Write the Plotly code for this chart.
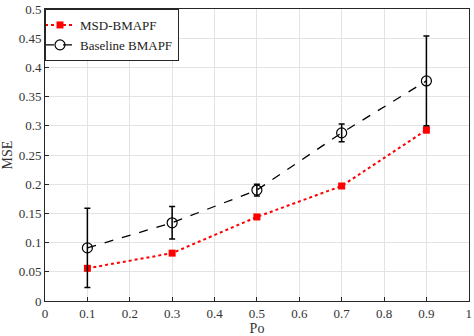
import plotly.graph_objects as go

po = [0.1, 0.3, 0.5, 0.7, 0.9]
msd_mse = [0.056, 0.082, 0.144, 0.197, 0.293]
msd_err = [0.003, 0.002, 0.003, 0.002, 0.005]
base_mse = [0.091, 0.134, 0.190, 0.288, 0.377]
base_err = [0.068, 0.028, 0.010, 0.015, 0.077]
x_ticks = [0, 0.1, 0.2, 0.3, 0.4, 0.5, 0.6, 0.7, 0.8, 0.9, 1]
y_ticks = [0, 0.05, 0.1, 0.15, 0.2, 0.25, 0.3, 0.35, 0.4, 0.45, 0.5]

font = "Liberation Serif"

fig = go.Figure()
fig.add_trace(go.Scatter(
    x=po, y=msd_mse, name="MSD-BMAPF", mode="lines+markers",
    line=dict(color="red", width=2, dash="dot"),
    marker=dict(symbol="square", size=7, color="red"),
    error_y=dict(type="data", array=msd_err, color="red", thickness=1.2, width=3),
))
fig.add_trace(go.Scatter(
    x=po, y=base_mse, name="Baseline BMAPF", mode="lines+markers",
    line=dict(color="black", width=1.3, dash="dash"),
    marker=dict(symbol="circle-open", size=10, color="black", line=dict(width=1.2)),
    error_y=dict(type="data", array=base_err, color="black", thickness=1.5, width=3),
))

axis_common = dict(
    showgrid=True, gridcolor="#e3e3e3", gridwidth=1,
    showline=True, linecolor="#262626", linewidth=1, mirror=True,
    ticks="inside", ticklen=4, tickcolor="#262626",
    tickfont=dict(family=font, size=13, color="#333333"),
    zeroline=False, ticklabeloverflow="allow",
)
fig.update_xaxes(range=[0, 1.0005], tickvals=x_ticks, ticktext=[str(v) for v in x_ticks],
                 title=dict(text="Po", font=dict(family=font, size=14, color="#333333"), standoff=3),
                 **axis_common)
fig.update_yaxes(range=[0, 0.5002], tickvals=y_ticks, ticktext=[("%g" % v) for v in y_ticks],
                 title=dict(text="MSE", font=dict(family=font, size=14, color="#333333"), standoff=5),
                 **axis_common)
fig.update_layout(
    width=474, height=336,
    margin=dict(l=45, r=2, t=6, b=35),
    plot_bgcolor="white", paper_bgcolor="white",
    legend=dict(x=0, y=1, xanchor="left", yanchor="top",
                bgcolor="white", bordercolor="#262626", borderwidth=1,
                font=dict(family=font, size=13, color="#222222"),
                tracegroupgap=0, itemwidth=30, indentation=-6),
    showlegend=True,
)
fig.write_html("out.html")
